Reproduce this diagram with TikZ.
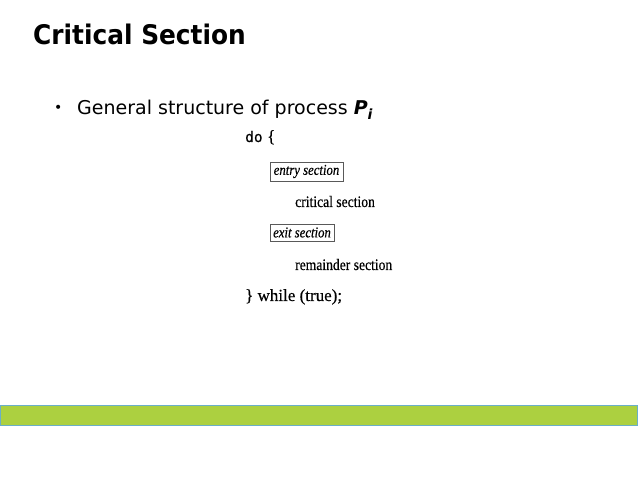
\documentclass[tikz,border=0pt]{standalone}
\usepackage{fontspec}
\setmainfont{Latin Modern Roman}
\newfontfamily\titlefont{DejaVu Sans}[FakeStretch=0.92]
\newfontfamily\slidefont{DejaVu Sans}
\newfontfamily\codefont{DejaVu Sans Mono}[FakeBold=0.4]
\newfontfamily\bookfont{Liberation Serif}[FakeStretch=0.85,FakeBold=0.4]
\newfontfamily\wbookfont{Liberation Serif}[FakeBold=0.4]
\definecolor{barfill}{HTML}{ACD040}
\definecolor{barline}{HTML}{6AAFC8}
\tikzset{
  titletext/.style={anchor=base west,inner sep=0pt,font=\titlefont\bfseries\fontsize{27}{30}\selectfont},
  bullettext/.style={anchor=base west,inner sep=0pt,font=\slidefont\fontsize{19}{22}\selectfont},
  codetext/.style={anchor=base west,inner sep=0pt,text=black,font=\bookfont\fontsize{16}{18}\selectfont},
  codebox/.style={draw=black!65,line width=0.6pt,inner sep=2pt,text=black,font=\bookfont\itshape\fontsize{15}{17}\selectfont}
}
\begin{document}
\begin{tikzpicture}[x=1pt,y=-1pt]
\useasboundingbox (0,0) rectangle (638,478);
\node[titletext] (title) at (33,45) {Critical Section};
\node[bullettext,font=\slidefont\fontsize{14}{16}\selectfont] (bullet) at (54,113) {\textbullet};
\node[bullettext] (line) at (77,115) {General structure of process \textbf{\textit{P}}\raisebox{-0.25em}{\textbf{\textit{\fontsize{14}{16}\selectfont i}}}};
\node[codetext,font=\codefont\fontsize{14.5}{16}\selectfont] (do) at (245,142) {do};
\node[codetext,font=\wbookfont\fontsize{17}{19}\selectfont] (brace) at (267,142) {\{};
\node[codebox,minimum height=19pt,minimum width=73pt] (entry) at (306.5,171.5) {entry section};
\node[codetext] (crit) at (295,207) {critical section};
\node[codebox,minimum height=17pt,minimum width=64pt] (exit) at (302,232.5) {exit section};
\node[codetext] (rem) at (295,270) {remainder section};
\node[codetext,font=\wbookfont\fontsize{17}{19}\selectfont] (while) at (245,301) {\} while (true);};
\draw[fill=barfill,draw=barline,line width=0.6pt] (0.3,405) rectangle (637.7,425);
\end{tikzpicture}
\end{document}
